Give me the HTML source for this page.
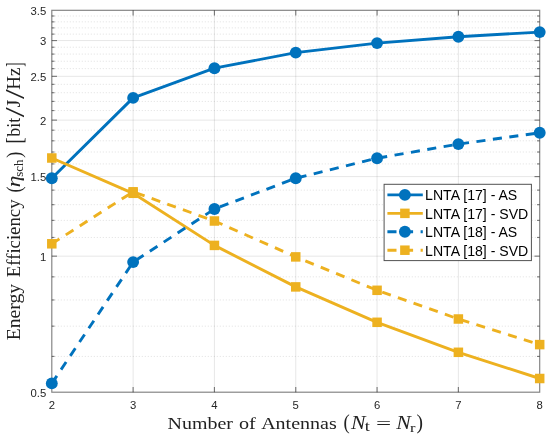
<!DOCTYPE html>
<html><head><meta charset="utf-8"><title>Energy Efficiency vs Number of Antennas</title>
<style>html,body{margin:0;padding:0;background:#fff}body{width:550px;height:437px;overflow:hidden}svg{display:block}</style>
</head><body>
<svg width="550" height="437" viewBox="0 0 550 437">
<rect width="550" height="437" fill="#fff"/>
<g stroke="#262626" stroke-opacity="0.2" stroke-width="0.7" stroke-dasharray="1 2" fill="none">
<line x1="51.8" x2="539.7" y1="356.42" y2="356.42"/>
<line x1="51.8" x2="539.7" y1="326.16" y2="326.16"/>
<line x1="51.8" x2="539.7" y1="299.96" y2="299.96"/>
<line x1="51.8" x2="539.7" y1="276.84" y2="276.84"/>
<line x1="51.8" x2="539.7" y1="237.46" y2="237.46"/>
<line x1="51.8" x2="539.7" y1="220.38" y2="220.38"/>
<line x1="51.8" x2="539.7" y1="204.67" y2="204.67"/>
<line x1="51.8" x2="539.7" y1="190.13" y2="190.13"/>
<line x1="51.8" x2="539.7" y1="163.92" y2="163.92"/>
<line x1="51.8" x2="539.7" y1="152.02" y2="152.02"/>
<line x1="51.8" x2="539.7" y1="140.81" y2="140.81"/>
<line x1="51.8" x2="539.7" y1="130.20" y2="130.20"/>
<line x1="51.8" x2="539.7" y1="110.55" y2="110.55"/>
<line x1="51.8" x2="539.7" y1="101.42" y2="101.42"/>
<line x1="51.8" x2="539.7" y1="92.70" y2="92.70"/>
<line x1="51.8" x2="539.7" y1="84.35" y2="84.35"/>
<line x1="51.8" x2="539.7" y1="68.64" y2="68.64"/>
<line x1="51.8" x2="539.7" y1="61.23" y2="61.23"/>
<line x1="51.8" x2="539.7" y1="54.09" y2="54.09"/>
<line x1="51.8" x2="539.7" y1="47.21" y2="47.21"/>
<line x1="51.8" x2="539.7" y1="34.12" y2="34.12"/>
<line x1="51.8" x2="539.7" y1="27.89" y2="27.89"/>
<line x1="51.8" x2="539.7" y1="21.85" y2="21.85"/>
<line x1="51.8" x2="539.7" y1="15.99" y2="15.99"/>
</g>
<g stroke="#262626" stroke-opacity="0.11" stroke-width="1" fill="none">
<line x1="51.8" x2="539.7" y1="256.16" y2="256.16"/>
<line x1="51.8" x2="539.7" y1="176.59" y2="176.59"/>
<line x1="51.8" x2="539.7" y1="120.13" y2="120.13"/>
<line x1="51.8" x2="539.7" y1="76.34" y2="76.34"/>
<line x1="51.8" x2="539.7" y1="40.55" y2="40.55"/>
<line x1="133.12" x2="133.12" y1="10.3" y2="392.2"/>
<line x1="214.43" x2="214.43" y1="10.3" y2="392.2"/>
<line x1="295.75" x2="295.75" y1="10.3" y2="392.2"/>
<line x1="377.07" x2="377.07" y1="10.3" y2="392.2"/>
<line x1="458.38" x2="458.38" y1="10.3" y2="392.2"/>
</g>
<g stroke="#262626" stroke-opacity="0.58" stroke-width="1.15" fill="none">
<rect x="51.8" y="10.3" width="487.90" height="381.90"/>
<line x1="133.12" x2="133.12" y1="392.2" y2="387.0"/>
<line x1="133.12" x2="133.12" y1="10.3" y2="15.5"/>
<line x1="214.43" x2="214.43" y1="392.2" y2="387.0"/>
<line x1="214.43" x2="214.43" y1="10.3" y2="15.5"/>
<line x1="295.75" x2="295.75" y1="392.2" y2="387.0"/>
<line x1="295.75" x2="295.75" y1="10.3" y2="15.5"/>
<line x1="377.07" x2="377.07" y1="392.2" y2="387.0"/>
<line x1="377.07" x2="377.07" y1="10.3" y2="15.5"/>
<line x1="458.38" x2="458.38" y1="392.2" y2="387.0"/>
<line x1="458.38" x2="458.38" y1="10.3" y2="15.5"/>
<line x1="51.8" x2="54.5" y1="356.42" y2="356.42"/>
<line x1="539.7" x2="537.0" y1="356.42" y2="356.42"/>
<line x1="51.8" x2="54.5" y1="326.16" y2="326.16"/>
<line x1="539.7" x2="537.0" y1="326.16" y2="326.16"/>
<line x1="51.8" x2="54.5" y1="299.96" y2="299.96"/>
<line x1="539.7" x2="537.0" y1="299.96" y2="299.96"/>
<line x1="51.8" x2="54.5" y1="276.84" y2="276.84"/>
<line x1="539.7" x2="537.0" y1="276.84" y2="276.84"/>
<line x1="51.8" x2="57.0" y1="256.16" y2="256.16"/>
<line x1="539.7" x2="534.5" y1="256.16" y2="256.16"/>
<line x1="51.8" x2="54.5" y1="237.46" y2="237.46"/>
<line x1="539.7" x2="537.0" y1="237.46" y2="237.46"/>
<line x1="51.8" x2="54.5" y1="220.38" y2="220.38"/>
<line x1="539.7" x2="537.0" y1="220.38" y2="220.38"/>
<line x1="51.8" x2="54.5" y1="204.67" y2="204.67"/>
<line x1="539.7" x2="537.0" y1="204.67" y2="204.67"/>
<line x1="51.8" x2="54.5" y1="190.13" y2="190.13"/>
<line x1="539.7" x2="537.0" y1="190.13" y2="190.13"/>
<line x1="51.8" x2="57.0" y1="176.59" y2="176.59"/>
<line x1="539.7" x2="534.5" y1="176.59" y2="176.59"/>
<line x1="51.8" x2="54.5" y1="163.92" y2="163.92"/>
<line x1="539.7" x2="537.0" y1="163.92" y2="163.92"/>
<line x1="51.8" x2="54.5" y1="152.02" y2="152.02"/>
<line x1="539.7" x2="537.0" y1="152.02" y2="152.02"/>
<line x1="51.8" x2="54.5" y1="140.81" y2="140.81"/>
<line x1="539.7" x2="537.0" y1="140.81" y2="140.81"/>
<line x1="51.8" x2="54.5" y1="130.20" y2="130.20"/>
<line x1="539.7" x2="537.0" y1="130.20" y2="130.20"/>
<line x1="51.8" x2="57.0" y1="120.13" y2="120.13"/>
<line x1="539.7" x2="534.5" y1="120.13" y2="120.13"/>
<line x1="51.8" x2="54.5" y1="110.55" y2="110.55"/>
<line x1="539.7" x2="537.0" y1="110.55" y2="110.55"/>
<line x1="51.8" x2="54.5" y1="101.42" y2="101.42"/>
<line x1="539.7" x2="537.0" y1="101.42" y2="101.42"/>
<line x1="51.8" x2="54.5" y1="92.70" y2="92.70"/>
<line x1="539.7" x2="537.0" y1="92.70" y2="92.70"/>
<line x1="51.8" x2="54.5" y1="84.35" y2="84.35"/>
<line x1="539.7" x2="537.0" y1="84.35" y2="84.35"/>
<line x1="51.8" x2="57.0" y1="76.34" y2="76.34"/>
<line x1="539.7" x2="534.5" y1="76.34" y2="76.34"/>
<line x1="51.8" x2="54.5" y1="68.64" y2="68.64"/>
<line x1="539.7" x2="537.0" y1="68.64" y2="68.64"/>
<line x1="51.8" x2="54.5" y1="61.23" y2="61.23"/>
<line x1="539.7" x2="537.0" y1="61.23" y2="61.23"/>
<line x1="51.8" x2="54.5" y1="54.09" y2="54.09"/>
<line x1="539.7" x2="537.0" y1="54.09" y2="54.09"/>
<line x1="51.8" x2="54.5" y1="47.21" y2="47.21"/>
<line x1="539.7" x2="537.0" y1="47.21" y2="47.21"/>
<line x1="51.8" x2="57.0" y1="40.55" y2="40.55"/>
<line x1="539.7" x2="534.5" y1="40.55" y2="40.55"/>
<line x1="51.8" x2="54.5" y1="34.12" y2="34.12"/>
<line x1="539.7" x2="537.0" y1="34.12" y2="34.12"/>
<line x1="51.8" x2="54.5" y1="27.89" y2="27.89"/>
<line x1="539.7" x2="537.0" y1="27.89" y2="27.89"/>
<line x1="51.8" x2="54.5" y1="21.85" y2="21.85"/>
<line x1="539.7" x2="537.0" y1="21.85" y2="21.85"/>
<line x1="51.8" x2="54.5" y1="15.99" y2="15.99"/>
<line x1="539.7" x2="537.0" y1="15.99" y2="15.99"/>
</g>
<polyline points="51.80,178.30 133.12,97.90 214.43,68.20 295.75,52.60 377.07,43.10 458.38,36.70 539.70,32.10" fill="none" stroke="#0072BD" stroke-width="2.9" stroke-linejoin="round"/>
<circle cx="51.80" cy="178.30" r="5.95" fill="#0072BD"/>
<circle cx="133.12" cy="97.90" r="5.95" fill="#0072BD"/>
<circle cx="214.43" cy="68.20" r="5.95" fill="#0072BD"/>
<circle cx="295.75" cy="52.60" r="5.95" fill="#0072BD"/>
<circle cx="377.07" cy="43.10" r="5.95" fill="#0072BD"/>
<circle cx="458.38" cy="36.70" r="5.95" fill="#0072BD"/>
<circle cx="539.70" cy="32.10" r="5.95" fill="#0072BD"/>
<polyline points="51.80,158.00 133.12,193.30 214.43,245.40 295.75,286.90 377.07,322.30 458.38,352.30 539.70,378.50" fill="none" stroke="#EDB120" stroke-width="2.9" stroke-linejoin="round"/>
<rect x="47.05" y="153.25" width="9.5" height="9.5" fill="#EDB120"/>
<rect x="128.37" y="188.55" width="9.5" height="9.5" fill="#EDB120"/>
<rect x="209.68" y="240.65" width="9.5" height="9.5" fill="#EDB120"/>
<rect x="291.00" y="282.15" width="9.5" height="9.5" fill="#EDB120"/>
<rect x="372.32" y="317.55" width="9.5" height="9.5" fill="#EDB120"/>
<rect x="453.63" y="347.55" width="9.5" height="9.5" fill="#EDB120"/>
<rect x="534.95" y="373.75" width="9.5" height="9.5" fill="#EDB120"/>
<polyline points="51.80,383.40 133.12,262.10 214.43,209.00 295.75,178.20 377.07,158.20 458.38,144.10 539.70,132.80" fill="none" stroke="#0072BD" stroke-width="2.9" stroke-linejoin="round" stroke-dasharray="9.1 7.5"/>
<circle cx="51.80" cy="383.40" r="5.95" fill="#0072BD"/>
<circle cx="133.12" cy="262.10" r="5.95" fill="#0072BD"/>
<circle cx="214.43" cy="209.00" r="5.95" fill="#0072BD"/>
<circle cx="295.75" cy="178.20" r="5.95" fill="#0072BD"/>
<circle cx="377.07" cy="158.20" r="5.95" fill="#0072BD"/>
<circle cx="458.38" cy="144.10" r="5.95" fill="#0072BD"/>
<circle cx="539.70" cy="132.80" r="5.95" fill="#0072BD"/>
<polyline points="51.80,243.80 133.12,191.80 214.43,221.00 295.75,256.90 377.07,290.30 458.38,319.00 539.70,344.60" fill="none" stroke="#EDB120" stroke-width="2.9" stroke-linejoin="round" stroke-dasharray="9.1 7.5"/>
<rect x="47.05" y="239.05" width="9.5" height="9.5" fill="#EDB120"/>
<rect x="128.37" y="187.05" width="9.5" height="9.5" fill="#EDB120"/>
<rect x="209.68" y="216.25" width="9.5" height="9.5" fill="#EDB120"/>
<rect x="291.00" y="252.15" width="9.5" height="9.5" fill="#EDB120"/>
<rect x="372.32" y="285.55" width="9.5" height="9.5" fill="#EDB120"/>
<rect x="453.63" y="314.25" width="9.5" height="9.5" fill="#EDB120"/>
<rect x="534.95" y="339.85" width="9.5" height="9.5" fill="#EDB120"/>
<g font-family="Liberation Sans, Arial, Helvetica, sans-serif" font-size="11.3" fill="#262626">
<text x="51.80" y="409.3" text-anchor="middle">2</text>
<text x="133.12" y="409.3" text-anchor="middle">3</text>
<text x="214.43" y="409.3" text-anchor="middle">4</text>
<text x="295.75" y="409.3" text-anchor="middle">5</text>
<text x="377.07" y="409.3" text-anchor="middle">6</text>
<text x="458.38" y="409.3" text-anchor="middle">7</text>
<text x="539.70" y="409.3" text-anchor="middle">8</text>
<text x="46.2" y="396.90" text-anchor="end">0.5</text>
<text x="46.2" y="260.86" text-anchor="end">1</text>
<text x="46.2" y="181.29" text-anchor="end">1.5</text>
<text x="46.2" y="124.83" text-anchor="end">2</text>
<text x="46.2" y="81.04" text-anchor="end">2.5</text>
<text x="46.2" y="45.25" text-anchor="end">3</text>
<text x="46.2" y="15.00" text-anchor="end">3.5</text>
</g>
<rect x="384.1" y="184.3" width="147.3" height="76.3" fill="#fff" stroke="#262626" stroke-opacity="0.8" stroke-width="1"/>
<g font-family="Liberation Sans, Arial, Helvetica, sans-serif" font-size="14.1" fill="#000">
<line x1="387.4" x2="422.8" y1="194.9" y2="194.9" stroke="#0072BD" stroke-width="2.9"/>
<circle cx="404.90" cy="194.90" r="5.95" fill="#0072BD"/>
<text x="425.1" y="200.40">LNTA [17] - AS</text>
<line x1="387.4" x2="422.8" y1="213.35" y2="213.35" stroke="#EDB120" stroke-width="2.9"/>
<rect x="400.15" y="208.60" width="9.5" height="9.5" fill="#EDB120"/>
<text x="425.1" y="218.85">LNTA [17] - SVD</text>
<line x1="387.4" x2="422.8" y1="231.8" y2="231.8" stroke="#0072BD" stroke-width="2.9" stroke-dasharray="9.1 7.5"/>
<circle cx="404.90" cy="231.80" r="5.95" fill="#0072BD"/>
<text x="425.1" y="237.30">LNTA [18] - AS</text>
<line x1="387.4" x2="422.8" y1="250.2" y2="250.2" stroke="#EDB120" stroke-width="2.9" stroke-dasharray="9.1 7.5"/>
<rect x="400.15" y="245.45" width="9.5" height="9.5" fill="#EDB120"/>
<text x="425.1" y="255.70">LNTA [18] - SVD</text>
</g>
<g font-family="Liberation Serif, Times New Roman, serif" fill="#222">
<text x="167.50" y="428.50" font-size="17.60" textLength="65.41" lengthAdjust="spacingAndGlyphs">Number</text>
<text x="238.90" y="428.50" font-size="17.60" textLength="16.79" lengthAdjust="spacingAndGlyphs">of</text>
<text x="261.15" y="428.50" font-size="17.60" textLength="75.61" lengthAdjust="spacingAndGlyphs">Antennas</text>
<text x="343.55" y="429.30" font-size="21.05" textLength="6.23" lengthAdjust="spacingAndGlyphs">(</text>
<text x="351.05" y="428.60" font-size="18.58" textLength="14.53" lengthAdjust="spacingAndGlyphs" font-style="italic">N</text>
<text x="364.65" y="431.25" font-size="14.57" textLength="5.21" lengthAdjust="spacingAndGlyphs">t</text>
<text x="375.95" y="428.50" font-size="17.60" textLength="15.19" lengthAdjust="spacingAndGlyphs">=</text>
<text x="396.35" y="428.60" font-size="18.58" textLength="14.53" lengthAdjust="spacingAndGlyphs" font-style="italic">N</text>
<text x="409.95" y="431.50" font-size="12.29" textLength="5.48" lengthAdjust="spacingAndGlyphs">r</text>
<text x="416.50" y="429.30" font-size="21.06" textLength="6.51" lengthAdjust="spacingAndGlyphs">)</text>
<text transform="translate(20.35,340.35) rotate(-90)" font-size="19.00" textLength="56.56" lengthAdjust="spacingAndGlyphs">Energy</text>
<text transform="translate(20.35,277.20) rotate(-90)" font-size="19.00" textLength="77.71" lengthAdjust="spacingAndGlyphs">Efficiency</text>
<text transform="translate(20.70,192.40) rotate(-90)" font-size="21.22" textLength="6.15" lengthAdjust="spacingAndGlyphs">(</text>
<text transform="translate(20.10,187.15) rotate(-90)" font-size="17.77" textLength="11.64" lengthAdjust="spacingAndGlyphs" font-style="italic">η</text>
<text transform="translate(23.45,176.85) rotate(-90)" font-size="13.22" textLength="17.29" lengthAdjust="spacingAndGlyphs">sch</text>
<text transform="translate(20.70,157.85) rotate(-90)" font-size="21.22" textLength="6.09" lengthAdjust="spacingAndGlyphs">)</text>
<text transform="translate(21.60,143.80) rotate(-90)" font-size="22.88" textLength="6.47" lengthAdjust="spacingAndGlyphs">[</text>
<text transform="translate(20.35,136.65) rotate(-90)" font-size="19.00" textLength="18.85" lengthAdjust="spacingAndGlyphs">bit</text>
<text transform="translate(24.30,117.35) rotate(-90)" font-size="28.35" textLength="9.91" lengthAdjust="spacingAndGlyphs">/</text>
<text transform="translate(20.35,107.50) rotate(-90)" font-size="19.00" textLength="7.91" lengthAdjust="spacingAndGlyphs">J</text>
<text transform="translate(24.30,99.00) rotate(-90)" font-size="28.35" textLength="9.65" lengthAdjust="spacingAndGlyphs">/</text>
<text transform="translate(20.35,89.85) rotate(-90)" font-size="19.00" textLength="22.20" lengthAdjust="spacingAndGlyphs">Hz</text>
<text transform="translate(21.60,66.80) rotate(-90)" font-size="22.88" textLength="4.15" lengthAdjust="spacingAndGlyphs">]</text>
</g>
</svg>
</body></html>
